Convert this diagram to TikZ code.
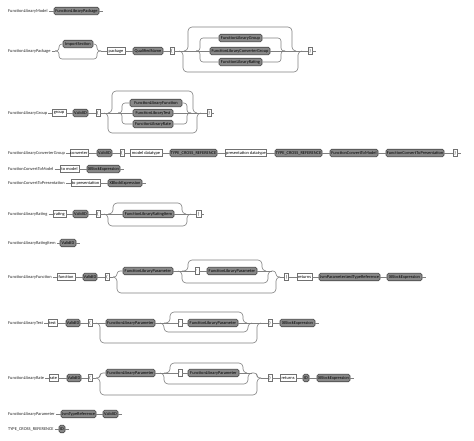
\documentclass[tikz,border=0pt]{standalone}
\usepackage{fontspec}
\setmainfont{Carlito}
\usetikzlibrary{calc}
\definecolor{ntf}{HTML}{888888}
\definecolor{ntd}{HTML}{454545}
\definecolor{kwc}{HTML}{707070}
\definecolor{lnc}{HTML}{808080}
\newcommand{\fs}{\fontsize{4.4pt}{5pt}\selectfont}
\begin{document}
\begin{tikzpicture}[x=1pt,y=-1pt,
  lbl/.style={anchor=west,inner sep=1pt,font=\fs,text=black!85},
  kw/.style={draw=kwc,fill=white,line width=0.45pt,minimum height=7pt,inner sep=0.6pt,font=\fs},
  nt/.style={draw=ntd,fill=ntf,rounded corners=1.5pt,line width=0.55pt,minimum height=7.5pt,inner sep=0.6pt,font=\fs},
  rr/.style={draw=lnc,line width=0.6pt,rounded corners=3pt}]
\fill[white] (0,0) rectangle (474,441);
\useasboundingbox (0,0) rectangle (474,441);

% Row 1
\node[lbl] (r1) at (7,11) {FunctionLibraryModel};
\node[nt,minimum width=45pt] (r1a) at (76.5,11) {FunctionLibraryPackage};
\coordinate (r1e) at (103,11);
\draw[rr] (r1.east) -- (r1a.west); \draw[rr] (r1a.east) -- (r1e);

% Row 2
\node[lbl] (r2) at (7,51) {FunctionLibraryPackage};
\coordinate (r2s) at (55,51); \coordinate (r2j) at (101,51);
\node[nt,minimum width=30pt] (r2imp) at (78,44) {ImportSection};
\node[kw,minimum width=18pt] (r2pkg) at (116,51) {package};
\node[nt,minimum width=30pt] (r2qn) at (148,51) {QualifiedName};
\node[kw,minimum width=4.5pt] (r2lb) at (172,51) {\{};
\coordinate (r2os) at (179,51);
\coordinate (r2ts) at (184,51);
\coordinate (r2cs) at (196,51);
\node[nt,minimum width=43pt] (r2g) at (240.5,38) {FunctionLibraryGroup};
\node[nt,minimum width=60pt] (r2c) at (240,51) {FunctionLibraryConverterGroup};
\node[nt,minimum width=43pt] (r2r) at (240.5,62) {FunctionLibraryRating};
\coordinate (r2cj) at (285,51);
\coordinate (r2tj) at (296,51);
\coordinate (r2oj) at (302,51);
\node[kw,minimum width=4.5pt] (r2rb) at (310,51) {\}};
\coordinate (r2e) at (316,51);
\draw[rr] (r2.east) -- (r2s);
\draw[rr] (r2s) -| (59,44) -- (r2imp.west);
\draw[rr] (r2imp.east) -| (97,51) -- (r2j);
\draw[rr] (r2s) -| (59,59) -| (97,51) -- (r2j);
\draw[rr] (r2j) -- (r2pkg.west);
\draw[rr] (r2pkg) -- (r2qn); \draw[rr] (r2qn) -- (r2lb);
\draw[rr] (r2lb.east) -- (r2c.west); \draw[rr] (r2c.east) -- (r2rb.west);
\draw[rr] (r2rb.east) -- (r2e);
\draw[rr,rounded corners=4pt] (r2os) -| (183,72) -| (298,51) -- (r2oj);
\draw[rr,rounded corners=4pt] (r2ts) -| (188,27) -| (292,51) -- (r2tj);
\draw[rr] (r2cs) -| (200,38) -- (r2g.west); \draw[rr] (r2g.east) -| (281,51) -- (r2cj);
\draw[rr] (r2cs) -| (200,62) -- (r2r.west); \draw[rr] (r2r.east) -| (281,51) -- (r2cj);

% Row 3
\node[lbl] (r3) at (7,113) {FunctionLibraryGroup};
\node[kw,minimum width=14pt] (r3k) at (59,113) {group};
\node[nt,minimum width=15pt] (r3v) at (80.5,113) {ValidID};
\node[kw,minimum width=4.5pt] (r3lb) at (98,113) {\{};
\coordinate (r3os) at (104,113); \coordinate (r3ts) at (108,113); \coordinate (r3cs) at (118,113);
\node[nt,minimum width=52pt] (r3f) at (156,103) {FunctionLibraryFunction};
\node[nt,minimum width=40pt] (r3t) at (153,113) {FunctionLibraryTest};
\node[nt,minimum width=40pt] (r3r) at (153,124) {FunctionLibraryRate};
\coordinate (r3cj) at (191,113); \coordinate (r3tj) at (197,113); \coordinate (r3oj) at (201,113);
\node[kw,minimum width=4.5pt] (r3rb) at (209,113) {\}};
\coordinate (r3e) at (214,113);
\draw[rr] (r3.east) -- (r3k.west); \draw[rr] (r3k) -- (r3v); \draw[rr] (r3v) -- (r3lb);
\draw[rr] (r3lb.east) -- (r3t.west); \draw[rr] (r3t.east) -- (r3rb.west); \draw[rr] (r3rb.east) -- (r3e);
\draw[rr,rounded corners=4pt] (r3os) -| (108,133) -| (197,113) -- (r3oj);
\draw[rr,rounded corners=4pt] (r3ts) -| (112,91) -| (193,113) -- (r3tj);
\draw[rr] (r3cs) -| (122,103) -- (r3f.west); \draw[rr] (r3f.east) -| (187,113) -- (r3cj);
\draw[rr] (r3cs) -| (122,124) -- (r3r.west); \draw[rr] (r3r.east) -| (187,113) -- (r3cj);

% Row 4
\node[lbl] (r4) at (7,153) {FunctionLibraryConverterGroup};
\node[kw,minimum width=18pt] (r4a) at (79,153) {converter};
\node[nt,minimum width=15pt] (r4b) at (104.5,153) {ValidID};
\node[kw,minimum width=4.5pt] (r4c) at (122,153) {\{};
\node[kw,minimum width=32pt] (r4d) at (146,153) {model datatype};
\node[nt,minimum width=47pt] (r4e) at (193.5,153) {TYPE\_CROSS\_REFERENCE};
\node[kw,minimum width=41pt] (r4f) at (246,153) {presentation datatype};
\node[nt,minimum width=47pt] (r4g) at (298.5,153) {TYPE\_CROSS\_REFERENCE};
\node[nt,minimum width=48pt] (r4h) at (354,153) {FunctionConvertToModel};
\node[nt,minimum width=58pt] (r4i) at (415,153) {FunctionConvertToPresentation};
\node[kw,minimum width=4.5pt] (r4j) at (455,153) {\}};
\coordinate (r4z) at (461,153);
\draw[rr] (r4.east) -- (r4a.west);
\foreach \p/\q in {r4a/r4b,r4b/r4c,r4c/r4d,r4d/r4e,r4e/r4f,r4f/r4g,r4g/r4h,r4h/r4i,r4i/r4j}
  \draw[rr] (\p.east) -- (\q.west);
\draw[rr] (r4j.east) -- (r4z);

% Row 5
\node[lbl] (r5) at (7,169) {FunctionConvertToModel};
\node[kw,minimum width=19pt] (r5a) at (69.5,169) {to model};
\node[nt,minimum width=33pt] (r5b) at (103.5,169) {XBlockExpression};
\coordinate (r5z) at (124,169);
\draw[rr] (r5.east) -- (r5a.west); \draw[rr] (r5a) -- (r5b); \draw[rr] (r5b.east) -- (r5z);

% Row 6
\node[lbl] (r6) at (7,183) {FunctionConvertToPresentation};
\node[kw,minimum width=29pt] (r6a) at (85.5,183) {to presentation};
\node[nt,minimum width=34pt] (r6b) at (125,183) {XBlockExpression};
\coordinate (r6z) at (146,183);
\draw[rr] (r6.east) -- (r6a.west); \draw[rr] (r6a) -- (r6b); \draw[rr] (r6b.east) -- (r6z);

% Row 7
\node[lbl] (r7) at (7,214) {FunctionLibraryRating};
\node[kw,minimum width=13pt] (r7a) at (59.5,214) {rating};
\node[nt,minimum width=15pt] (r7b) at (80.5,214) {ValidID};
\node[kw,minimum width=4.5pt] (r7c) at (98,214) {\{};
\coordinate (r7os) at (104,214); \coordinate (r7ts) at (108,214);
\node[nt,minimum width=51pt] (r7d) at (148.5,214) {FunctionLibraryRatingItem};
\coordinate (r7tj) at (186,214); \coordinate (r7oj) at (191,214);
\node[kw,minimum width=4.5pt] (r7e) at (198.5,214) {\}};
\coordinate (r7z) at (204,214);
\draw[rr] (r7.east) -- (r7a.west); \draw[rr] (r7a) -- (r7b); \draw[rr] (r7b) -- (r7c);
\draw[rr] (r7c.east) -- (r7d.west); \draw[rr] (r7d.east) -- (r7e.west); \draw[rr] (r7e.east) -- (r7z);
\draw[rr,rounded corners=4pt] (r7os) -| (108,226) -| (187,214) -- (r7oj);
\draw[rr,rounded corners=4pt] (r7ts) -| (113,203) -| (182,214) -- (r7tj);

% Row 8
\node[lbl] (r8) at (7,243) {FunctionLibraryRatingItem};
\node[nt,minimum width=16pt] (r8a) at (68,243) {ValidID};
\coordinate (r8z) at (80,243);
\draw[rr] (r8.east) -- (r8a.west); \draw[rr] (r8a.east) -- (r8z);

% Row 9
\node[lbl] (r9) at (7,277) {FunctionLibraryFunction};
\node[kw,minimum width=18pt] (r9a) at (66,277) {function};
\node[nt,minimum width=14pt] (r9b) at (90,277) {ValidID};
\node[kw,minimum width=4pt] (r9c) at (107,277) {(};
\coordinate (r9os) at (113,277);
\node[nt,minimum width=50pt] (r9p) at (148,271) {FunctionLibraryParameter};
\coordinate (r9is) at (178,271); \coordinate (r9ts) at (182,271);
\node[kw,minimum width=4pt] (r9cm) at (197,271) {,};
\node[nt,minimum width=50pt] (r9q) at (232,271) {FunctionLibraryParameter};
\coordinate (r9tj) at (266,271); \coordinate (r9ij) at (272,271);
\coordinate (r9oj) at (280,277);
\node[kw,minimum width=4pt] (r9d) at (286.5,277) {)};
\node[kw,minimum width=15pt] (r9e) at (304.5,277) {returns};
\node[nt,minimum width=61pt] (r9f) at (349.5,277) {JvmParameterizedTypeReference};
\node[nt,minimum width=35pt] (r9g) at (404.5,277) {XBlockExpression};
\coordinate (r9z) at (426,277);
\draw[rr] (r9.east) -- (r9a.west); \draw[rr] (r9a) -- (r9b); \draw[rr] (r9b) -- (r9c);
\draw[rr] (r9c.east) -- (r9os);
\draw[rr] (r9os) -| (117,271) -- (r9p.west);
\draw[rr,rounded corners=4pt] (r9os) -| (117,293) -| (276,277) -- (r9oj);
\draw[rr] (r9p.east) -- (r9cm.west); \draw[rr] (r9cm) -- (r9q); \draw[rr] (r9q.east) -- (r9ij);
\draw[rr,rounded corners=4pt] (r9is) -| (182,283) -| (268,271) -- (r9ij);
\draw[rr,rounded corners=4pt] (r9ts) -| (188,260) -| (262,271) -- (r9tj);
\draw[rr] (r9ij) -| (276,277) -- (r9oj);
\draw[rr] (r9oj) -- (r9d.west); \draw[rr] (r9d) -- (r9e); \draw[rr] (r9e) -- (r9f);
\draw[rr] (r9f) -- (r9g); \draw[rr] (r9g.east) -- (r9z);

% Row 10
\node[lbl] (r10) at (7,323) {FunctionLibraryTest};
\node[kw,minimum width=9pt] (r10a) at (52.5,323) {test};
\node[nt,minimum width=14pt] (r10b) at (73,323) {ValidID};
\node[kw,minimum width=4pt] (r10c) at (90,323) {(};
\coordinate (r10os) at (96,323);
\node[nt,minimum width=49pt] (r10p) at (130.5,323) {FunctionLibraryParameter};
\coordinate (r10is) at (160,323); \coordinate (r10ts) at (164,323);
\node[kw,minimum width=4pt] (r10cm) at (180,323) {,};
\node[nt,minimum width=50pt] (r10q) at (213,323) {FunctionLibraryParameter};
\coordinate (r10tj) at (247,323); \coordinate (r10ij) at (252,323); \coordinate (r10oj) at (261,323);
\node[kw,minimum width=4pt] (r10d) at (270,323) {)};
\node[nt,minimum width=35pt] (r10e) at (297.5,323) {XBlockExpression};
\coordinate (r10z) at (319,323);
\draw[rr] (r10.east) -- (r10a.west); \draw[rr] (r10a) -- (r10b); \draw[rr] (r10b) -- (r10c);
\draw[rr] (r10c.east) -- (r10p.west); \draw[rr] (r10p.east) -- (r10cm.west);
\draw[rr] (r10cm) -- (r10q); \draw[rr] (r10q.east) -- (r10d.west);
\draw[rr] (r10d) -- (r10e); \draw[rr] (r10e.east) -- (r10z);
\draw[rr,rounded corners=4pt] (r10os) -| (100,343) -| (257,323) -- (r10oj);
\draw[rr,rounded corners=4pt] (r10is) -| (164,332) -| (248,323) -- (r10ij);
\draw[rr,rounded corners=4pt] (r10ts) -| (170,312) -| (243,323) -- (r10tj);

% Row 11
\node[lbl] (r11) at (7,378) {FunctionLibraryRate};
\node[kw,minimum width=9pt] (r11a) at (53.5,378) {rate};
\node[nt,minimum width=14pt] (r11b) at (74,378) {ValidID};
\node[kw,minimum width=4pt] (r11c) at (90,378) {(};
\coordinate (r11os) at (96,378);
\node[nt,minimum width=49pt] (r11p) at (130.5,373) {FunctionLibraryParameter};
\coordinate (r11is) at (160,373); \coordinate (r11ts) at (164,373);
\node[kw,minimum width=4pt] (r11cm) at (180,373) {,};
\node[nt,minimum width=51pt] (r11q) at (213.5,373) {FunctionLibraryParameter};
\coordinate (r11tj) at (247,373); \coordinate (r11ij) at (252,373); \coordinate (r11oj) at (261,378);
\node[kw,minimum width=4pt] (r11d) at (270,378) {)};
\node[kw,minimum width=16pt] (r11e) at (288,378) {returns};
\node[nt,minimum width=6pt] (r11f) at (306,378) {ID};
\node[nt,minimum width=33pt] (r11g) at (333.5,378) {XBlockExpression};
\coordinate (r11z) at (354,378);
\draw[rr] (r11.east) -- (r11a.west); \draw[rr] (r11a) -- (r11b); \draw[rr] (r11b) -- (r11c);
\draw[rr] (r11c.east) -- (r11os);
\draw[rr] (r11os) -| (100,373) -- (r11p.west);
\draw[rr,rounded corners=4pt] (r11os) -| (100,395) -| (257,378) -- (r11oj);
\draw[rr] (r11p.east) -- (r11cm.west); \draw[rr] (r11cm) -- (r11q); \draw[rr] (r11q.east) -- (r11ij);
\draw[rr,rounded corners=4pt] (r11is) -| (164,384) -| (248,373) -- (r11ij);
\draw[rr,rounded corners=4pt] (r11ts) -| (170,363) -| (243,373) -- (r11tj);
\draw[rr] (r11ij) -| (257,378) -- (r11oj);
\draw[rr] (r11oj) -- (r11d.west); \draw[rr] (r11d) -- (r11e); \draw[rr] (r11e) -- (r11f);
\draw[rr] (r11f) -- (r11g); \draw[rr] (r11g.east) -- (r11z);

% Row 12
\node[lbl] (r12) at (7,414) {FunctionLibraryParameter};
\node[nt,minimum width=35pt] (r12a) at (78.5,414) {JvmTypeReference};
\node[nt,minimum width=15pt] (r12b) at (110.5,414) {ValidID};
\coordinate (r12z) at (122,414);
\draw[rr] (r12.east) -- (r12a.west); \draw[rr] (r12a) -- (r12b); \draw[rr] (r12b.east) -- (r12z);

% Row 13
\node[lbl] (r13) at (7,429) {TYPE\_CROSS\_REFERENCE};
\node[nt,minimum width=6pt] (r13a) at (62,429) {ID};
\coordinate (r13z) at (69,429);
\draw[rr] (r13.east) -- (r13a.west); \draw[rr] (r13a.east) -- (r13z);
\end{tikzpicture}
\end{document}
